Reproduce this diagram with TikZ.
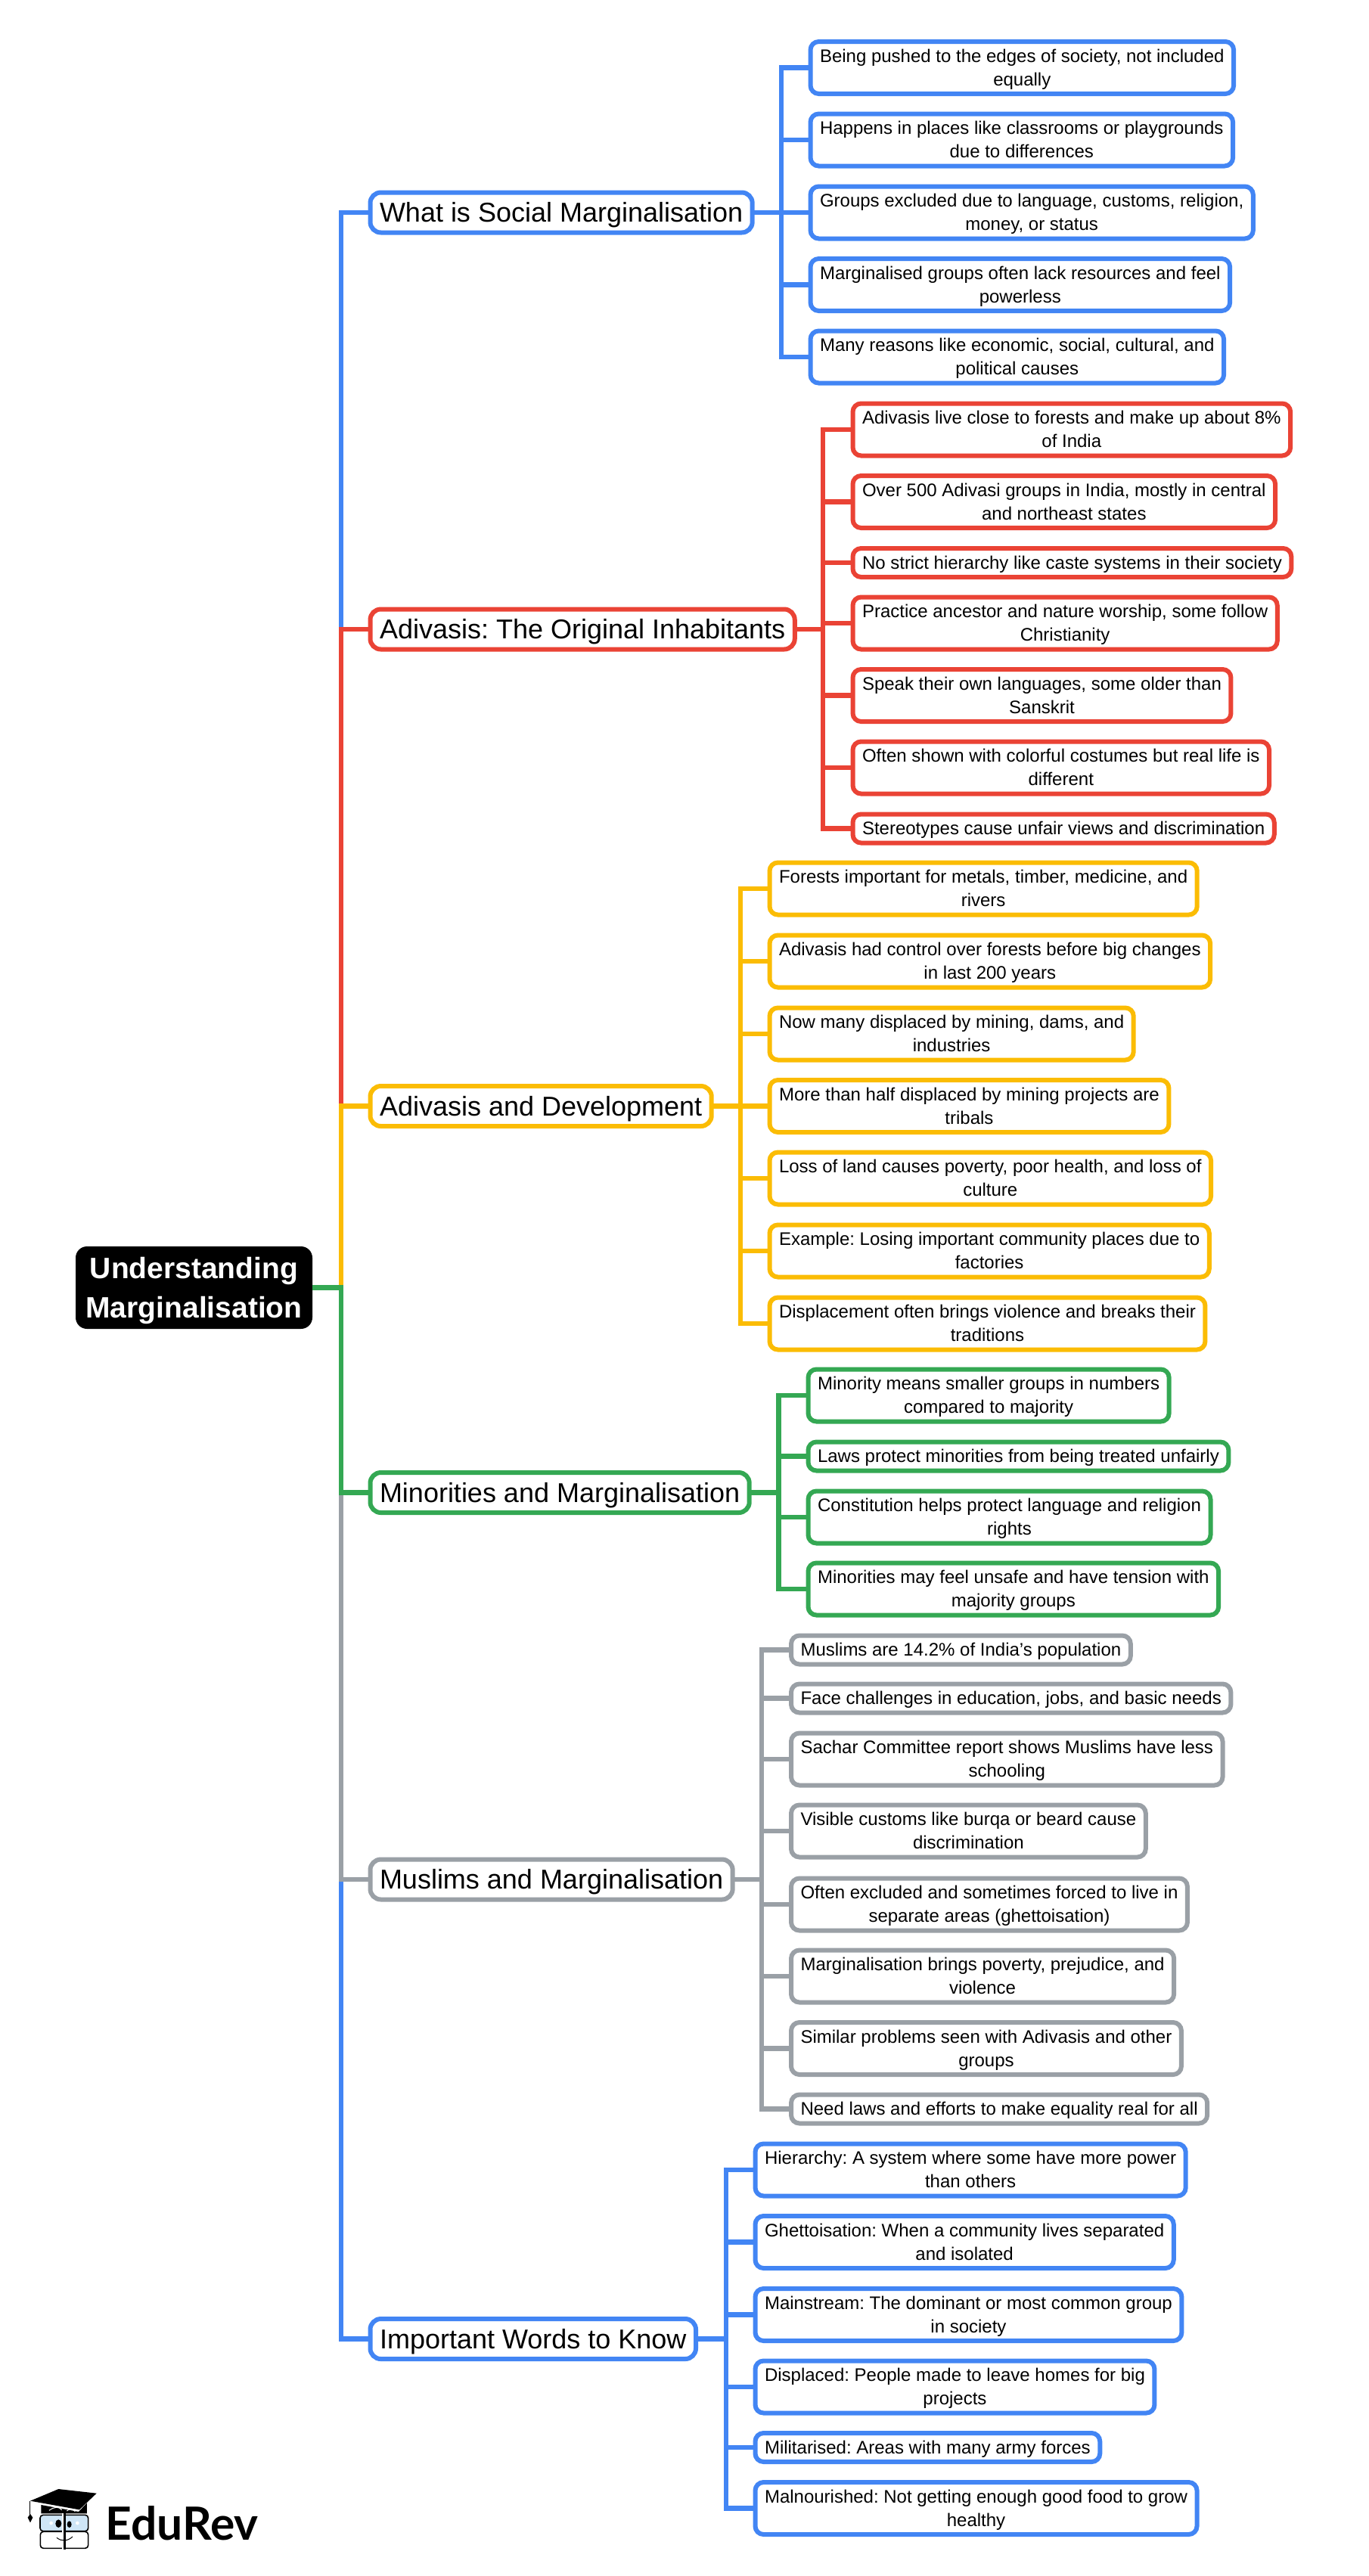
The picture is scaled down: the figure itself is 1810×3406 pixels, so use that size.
\documentclass[tikz,border=0pt]{standalone}
\usepackage{fontspec}
\setmainfont{Liberation Sans}
\newfontfamily\logofont{Lato}
\frenchspacing
\definecolor{gblue}{HTML}{4285F4}
\definecolor{gred}{HTML}{EA4335}
\definecolor{gyellow}{HTML}{FBBC04}
\definecolor{ggreen}{HTML}{34A853}
\definecolor{ggray}{HTML}{9AA0A6}
\definecolor{logoblue}{HTML}{CFE6F7}
\begin{document}
\begin{tikzpicture}[
        x=1pt,
        y=-1pt,
        rootnode/.style={
            fill=black,
            text=white,
            rounded corners=15pt,
            align=center,
            minimum width=313pt,
            minimum height=109pt,
            inner sep=0pt,
            outer sep=0pt,
            font=\fontsize{39}{52}\selectfont\bfseries,
            execute at begin node={\rule{0pt}{91.5pt}},
            execute at end node={\rule[-12.5pt]{0pt}{12.5pt}},},
        branchnode/.style={
            draw=#1,
            fill=white,
            line width=6pt,
            rounded corners=14pt,
            anchor=west,
            align=center,
            minimum height=53pt,
            inner xsep=12.5pt,
            inner ysep=0pt,
            outer sep=0pt,
            font=\fontsize{36}{44}\selectfont,
            execute at begin node={\rule{0pt}{34.5pt}},
            execute at end node={\rule[-9.5pt]{0pt}{9.5pt}},},
        leafbase/.style={
            draw=#1,
            fill=white,
            line width=6pt,
            rounded corners=11pt,
            anchor=west,
            align=center,
            inner xsep=12.5pt,
            inner ysep=0pt,
            outer sep=0pt,
            font=\fontsize{24}{31}\selectfont,
            execute at end node={\rule[-7.2pt]{0pt}{7.2pt}},},
        leafnode/.style={
            leafbase=#1,
            minimum height=69pt,
            execute at begin node={\rule{0pt}{54.8pt}},},
        leafshort/.style={
            leafbase=#1,
            minimum height=38pt,
            execute at begin node={\rule{0pt}{23.8pt}},},
        link/.style={
            draw=#1,
            line width=6.5pt,},
        ]

        \useasboundingbox (0,0) rectangle (1810,3406);

        \pgfmathsetmacro{\rb}{489.5} % left of the branches
        \pgfmathsetmacro{\ca}{1071.5}
        \pgfmathsetmacro{\cb}{1127.5}
        \pgfmathsetmacro{\cc}{1017.5}
        \pgfmathsetmacro{\cd}{1068.5}
        \pgfmathsetmacro{\ce}{1046}
        \pgfmathsetmacro{\cf}{998.5}

        \node[rootnode] (root) at (256.5,1702.5) {Understanding\\Marginalisation};

        \node[branchnode=gblue] (whatis) at (\rb,281) {What is Social Marginalisation};
        \node[branchnode=gred] (adivasis) at (\rb,832) {Adivasis: The Original Inhabitants};
        \node[branchnode=gyellow] (develop) at (\rb,1462.5) {Adivasis and Development};
        \node[branchnode=ggreen] (minorities) at (\rb,1973.5) {Minorities and Marginalisation};
        \node[branchnode=ggray] (muslims) at (\rb,2485) {Muslims and Marginalisation};
        \node[branchnode=gblue] (words) at (\rb,3092.5) {Important Words to Know};

        \node[leafnode=gblue] (what1) at (\ca,89.5) {Being pushed to the edges of society, not included\\equally};
        \node[leafnode=gblue] (what2) at (\ca,185) {Happens in places like classrooms or playgrounds\\due to differences};
        \node[leafnode=gblue] (what3) at (\ca,281) {Groups excluded due to language, customs, religion,\\money, or status};
        \node[leafnode=gblue] (what4) at (\ca,376.5) {Marginalised groups often lack resources and feel\\powerless};
        \node[leafnode=gblue] (what5) at (\ca,472) {Many reasons like economic, social, cultural, and\\political causes};

        \node[leafnode=gred] (adi1) at (\cb,568) {Adivasis live close to forests and make up about 8\%\\of India};
        \node[leafnode=gred] (adi2) at (\cb,663.5) {Over 500 Adivasi groups in India, mostly in central\\and northeast states};
        \node[leafshort=gred] (adi3) at (\cb,744) {No strict hierarchy like caste systems in their society};
        \node[leafnode=gred] (adi4) at (\cb,824) {Practice ancestor and nature worship, some follow\\Christianity};
        \node[leafnode=gred] (adi5) at (\cb,919.5) {Speak their own languages, some older than\\Sanskrit};
        \node[leafnode=gred] (adi6) at (\cb,1015) {Often shown with colorful costumes but real life is\\different};
        \node[leafshort=gred] (adi7) at (\cb,1095.5) {Stereotypes cause unfair views and discrimination};

        \node[leafnode=gyellow] (dev1) at (\cc,1175) {Forests important for metals, timber, medicine, and\\rivers};
        \node[leafnode=gyellow] (dev2) at (\cc,1271) {Adivasis had control over forests before big changes\\in last 200 years};
        \node[leafnode=gyellow] (dev3) at (\cc,1367) {Now many displaced by mining, dams, and\\industries};
        \node[leafnode=gyellow] (dev4) at (\cc,1462.5) {More than half displaced by mining projects are\\tribals};
        \node[leafnode=gyellow] (dev5) at (\cc,1558) {Loss of land causes poverty, poor health, and loss of\\culture};
        \node[leafnode=gyellow] (dev6) at (\cc,1654) {Example: Losing important community places due to\\factories};
        \node[leafnode=gyellow] (dev7) at (\cc,1750) {Displacement often brings violence and breaks their\\traditions};

        \node[leafnode=ggreen] (min1) at (\cd,1845) {Minority means smaller groups in numbers\\compared to majority};
        \node[leafshort=ggreen] (min2) at (\cd,1925.5) {Laws protect minorities from being treated unfairly};
        \node[leafnode=ggreen] (min3) at (\cd,2006) {Constitution helps protect language and religion\\rights};
        \node[leafnode=ggreen] (min4) at (\cd,2101) {Minorities may feel unsafe and have tension with\\majority groups};

        \node[leafshort=ggray] (mus1) at (\ce,2181.5) {Muslims are 14.2\% of India's population};
        \node[leafshort=ggray] (mus2) at (\ce,2245.5) {Face challenges in education, jobs, and basic needs};
        \node[leafnode=ggray] (mus3) at (\ce,2326) {Sachar Committee report shows Muslims have less\\schooling};
        \node[leafnode=ggray] (mus4) at (\ce,2421) {Visible customs like burqa or beard cause\\discrimination};
        \node[leafnode=ggray] (mus5) at (\ce,2518) {Often excluded and sometimes forced to live in\\separate areas (ghettoisation)};
        \node[leafnode=ggray] (mus6) at (\ce,2613) {Marginalisation brings poverty, prejudice, and\\violence};
        \node[leafnode=ggray] (mus7) at (\ce,2708.5) {Similar problems seen with Adivasis and other\\groups};
        \node[leafshort=ggray] (mus8) at (\ce,2788.5) {Need laws and efforts to make equality real for all};

        \node[leafnode=gblue] (word1) at (\cf,2869) {Hierarchy: A system where some have more power\\than others};
        \node[leafnode=gblue] (word2) at (\cf,2964.5) {Ghettoisation: When a community lives separated\\and isolated};
        \node[leafnode=gblue] (word3) at (\cf,3060.5) {Mainstream: The dominant or most common group\\in society};
        \node[leafnode=gblue] (word4) at (\cf,3156) {Displaced: People made to leave homes for big\\projects};
        \node[leafshort=gblue] (word5) at (\cf,3236) {Militarised: Areas with many army forces};
        \node[leafnode=gblue] (word6) at (\cf,3316.5) {Malnourished: Not getting enough good food to grow\\healthy};

        \coordinate (trunk) at (451,1702.5);

        % order matters, the nearest branch stays on top
        \draw[link=gblue] (root.east) -- (trunk) |- (whatis.west);
        \draw[link=gred] (root.east) -- (trunk) |- (adivasis.west);
        \draw[link=gyellow] (root.east) -- (trunk) |- (develop.west);
        \draw[link=gblue] (root.east) -- (trunk) |- (words.west);
        \draw[link=ggray] (root.east) -- (trunk) |- (muslims.west);
        \draw[link=ggreen] (root.east) -- (trunk) |- (minorities.west);

        \coordinate (spinea) at (1033,281);
        \coordinate (spineb) at (1088,832);
        \coordinate (spinec) at (979,1462.5);
        \coordinate (spined) at (1029.5,1973.5);
        \coordinate (spinee) at (1007,2485);
        \coordinate (spinef) at (960,3092.5);

        \draw[link=gblue] (whatis.east) -- (spinea) |- (what1.west) (spinea) |- (what2.west) (spinea) -- (what3.west) (spinea) |- (what4.west) (spinea) |- (what5.west);
        \draw[link=gred] (adivasis.east) -- (spineb) |- (adi1.west) (spineb) |- (adi2.west) (spineb) |- (adi3.west) (spineb) |- (adi4.west) (spineb) |- (adi5.west) (spineb) |- (adi6.west) (spineb) |- (adi7.west);
        \draw[link=gyellow] (develop.east) -- (spinec) |- (dev1.west) (spinec) |- (dev2.west) (spinec) |- (dev3.west) (spinec) -- (dev4.west) (spinec) |- (dev5.west) (spinec) |- (dev6.west) (spinec) |- (dev7.west);
        \draw[link=ggreen] (minorities.east) -- (spined) |- (min1.west) (spined) |- (min2.west) (spined) |- (min3.west) (spined) |- (min4.west);
        \draw[link=ggray] (muslims.east) -- (spinee) |- (mus1.west) (spinee) |- (mus2.west) (spinee) |- (mus3.west) (spinee) |- (mus4.west) (spinee) |- (mus5.west) (spinee) |- (mus6.west) (spinee) |- (mus7.west) (spinee) |- (mus8.west);
        \draw[link=gblue] (words.east) -- (spinef) |- (word1.west) (spinef) |- (word2.west) (spinef) |- (word3.west) (spinef) |- (word4.west) (spinef) |- (word5.west) (spinef) |- (word6.west);

        % logo
        \node[anchor=base west, inner sep=0pt, font=\fontsize{60.5}{60}\logofont\bfseries] (logotext) at (139.5,3358) {EduRev};

        \begin{scope}[shift={(0,3200)}, x=0.3333pt, y=-0.3333pt]
            \fill (120,320) -- (232,273) -- (383,290) -- (315,355) -- cycle;
            \fill (163,336) -- (312,363) -- (345,328) -- (345,370) -- (163,370) -- cycle;
            \draw[white, line width=1pt] (195,358) .. controls (215,342) and (235,342) .. (245,356);
            \draw[white, line width=1pt] (265,360) .. controls (275,350) and (288,350) .. (298,362);
            \draw[line width=1pt] (120,320) -- (120,376);
            \fill (120,406) -- (110,386) -- (120,372) -- (130,386) -- cycle;
            \draw[fill=white, line width=1.6pt, rounded corners=4pt] (160,442) rectangle (350,508);
            \draw[fill=logoblue, line width=1.6pt, rounded corners=4pt] (159,376) rectangle (350,440);
            \draw[white, line width=2pt] (249,368) -- (249,512);
            \draw[line width=2.5pt] (256,368) -- (256,512);
            \fill (232,410) ellipse [x radius=12, y radius=16];
            \fill (275,413) ellipse [x radius=9, y radius=13];
            \fill[white] (203,408) circle [radius=7];
            \fill[white] (307,408) circle [radius=7];
            \draw[line width=1pt] (225,466) .. controls (245,482) and (268,480) .. (288,462);
        \end{scope}

    \end{tikzpicture}
\end{document}
